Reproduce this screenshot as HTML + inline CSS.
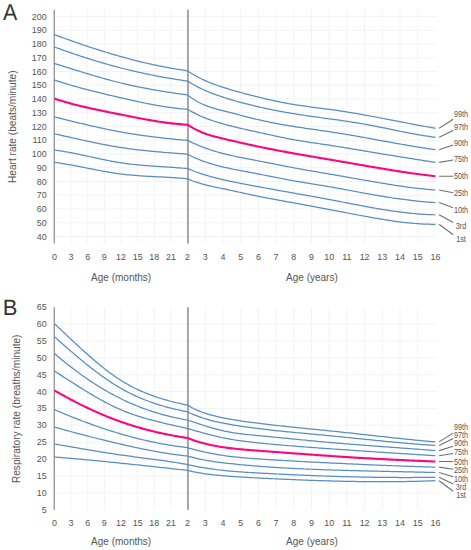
<!DOCTYPE html>
<html><head><meta charset="utf-8">
<style>
html,body{margin:0;padding:0;background:#fff;}
svg{display:block;}
text{font-family:"Liberation Sans",sans-serif;fill:#555555;}
.tk{font-size:9.5px;}
.ti{font-size:10px;}
.pl{font-size:8.5px;fill:#555;}
.lt{font-size:22px;fill:#333;text-rendering:geometricPrecision;}
</style></head><body>
<svg width="471" height="550" viewBox="0 0 471 550">
<rect width="471" height="550" fill="#fff"/>
<line x1="54.40" y1="9.68" x2="54.40" y2="243.38" stroke="#f3f3f3" stroke-width="1"/>
<line x1="71.05" y1="9.68" x2="71.05" y2="243.38" stroke="#f3f3f3" stroke-width="1"/>
<line x1="87.70" y1="9.68" x2="87.70" y2="243.38" stroke="#f3f3f3" stroke-width="1"/>
<line x1="104.35" y1="9.68" x2="104.35" y2="243.38" stroke="#f3f3f3" stroke-width="1"/>
<line x1="121.00" y1="9.68" x2="121.00" y2="243.38" stroke="#f3f3f3" stroke-width="1"/>
<line x1="137.65" y1="9.68" x2="137.65" y2="243.38" stroke="#f3f3f3" stroke-width="1"/>
<line x1="154.30" y1="9.68" x2="154.30" y2="243.38" stroke="#f3f3f3" stroke-width="1"/>
<line x1="170.95" y1="9.68" x2="170.95" y2="243.38" stroke="#f3f3f3" stroke-width="1"/>
<line x1="187.60" y1="9.68" x2="187.60" y2="243.38" stroke="#f3f3f3" stroke-width="1"/>
<line x1="205.30" y1="9.68" x2="205.30" y2="243.38" stroke="#f3f3f3" stroke-width="1"/>
<line x1="223.00" y1="9.68" x2="223.00" y2="243.38" stroke="#f3f3f3" stroke-width="1"/>
<line x1="240.70" y1="9.68" x2="240.70" y2="243.38" stroke="#f3f3f3" stroke-width="1"/>
<line x1="258.40" y1="9.68" x2="258.40" y2="243.38" stroke="#f3f3f3" stroke-width="1"/>
<line x1="276.10" y1="9.68" x2="276.10" y2="243.38" stroke="#f3f3f3" stroke-width="1"/>
<line x1="293.80" y1="9.68" x2="293.80" y2="243.38" stroke="#f3f3f3" stroke-width="1"/>
<line x1="311.50" y1="9.68" x2="311.50" y2="243.38" stroke="#f3f3f3" stroke-width="1"/>
<line x1="329.20" y1="9.68" x2="329.20" y2="243.38" stroke="#f3f3f3" stroke-width="1"/>
<line x1="346.90" y1="9.68" x2="346.90" y2="243.38" stroke="#f3f3f3" stroke-width="1"/>
<line x1="364.60" y1="9.68" x2="364.60" y2="243.38" stroke="#f3f3f3" stroke-width="1"/>
<line x1="382.30" y1="9.68" x2="382.30" y2="243.38" stroke="#f3f3f3" stroke-width="1"/>
<line x1="400.00" y1="9.68" x2="400.00" y2="243.38" stroke="#f3f3f3" stroke-width="1"/>
<line x1="417.70" y1="9.68" x2="417.70" y2="243.38" stroke="#f3f3f3" stroke-width="1"/>
<line x1="54.40" y1="16.55" x2="437.00" y2="16.55" stroke="#f3f3f3" stroke-width="1"/>
<line x1="54.40" y1="30.30" x2="437.00" y2="30.30" stroke="#f3f3f3" stroke-width="1"/>
<line x1="54.40" y1="44.04" x2="437.00" y2="44.04" stroke="#f3f3f3" stroke-width="1"/>
<line x1="54.40" y1="57.79" x2="437.00" y2="57.79" stroke="#f3f3f3" stroke-width="1"/>
<line x1="54.40" y1="71.54" x2="437.00" y2="71.54" stroke="#f3f3f3" stroke-width="1"/>
<line x1="54.40" y1="85.28" x2="437.00" y2="85.28" stroke="#f3f3f3" stroke-width="1"/>
<line x1="54.40" y1="99.03" x2="437.00" y2="99.03" stroke="#f3f3f3" stroke-width="1"/>
<line x1="54.40" y1="112.78" x2="437.00" y2="112.78" stroke="#f3f3f3" stroke-width="1"/>
<line x1="54.40" y1="126.53" x2="437.00" y2="126.53" stroke="#f3f3f3" stroke-width="1"/>
<line x1="54.40" y1="140.27" x2="437.00" y2="140.27" stroke="#f3f3f3" stroke-width="1"/>
<line x1="54.40" y1="154.02" x2="437.00" y2="154.02" stroke="#f3f3f3" stroke-width="1"/>
<line x1="54.40" y1="167.77" x2="437.00" y2="167.77" stroke="#f3f3f3" stroke-width="1"/>
<line x1="54.40" y1="181.51" x2="437.00" y2="181.51" stroke="#f3f3f3" stroke-width="1"/>
<line x1="54.40" y1="195.26" x2="437.00" y2="195.26" stroke="#f3f3f3" stroke-width="1"/>
<line x1="54.40" y1="209.01" x2="437.00" y2="209.01" stroke="#f3f3f3" stroke-width="1"/>
<line x1="54.40" y1="222.76" x2="437.00" y2="222.76" stroke="#f3f3f3" stroke-width="1"/>
<line x1="54.40" y1="236.50" x2="437.00" y2="236.50" stroke="#f3f3f3" stroke-width="1"/>
<line x1="54.30" y1="9.68" x2="54.30" y2="243.38" stroke="#9a9a9a" stroke-width="1.4"/>
<line x1="187.95" y1="9.68" x2="187.95" y2="243.38" stroke="#9a9a9a" stroke-width="1.7"/>
<path d="M54.40,34.60 L56.39,35.34 L58.38,36.08 L60.36,36.82 L62.35,37.55 L64.34,38.28 L66.33,39.00 L68.32,39.71 L70.30,40.42 L72.29,41.12 L74.28,41.82 L76.27,42.52 L78.26,43.21 L80.24,43.89 L82.23,44.57 L84.22,45.24 L86.21,45.90 L88.20,46.56 L90.19,47.22 L92.17,47.87 L94.16,48.51 L96.15,49.15 L98.14,49.78 L100.13,50.41 L102.11,51.03 L104.10,51.64 L106.09,52.25 L108.08,52.85 L110.07,53.44 L112.05,54.03 L114.04,54.61 L116.03,55.19 L118.02,55.76 L120.01,56.32 L121.99,56.88 L123.98,57.43 L125.97,57.97 L127.96,58.51 L129.95,59.03 L131.93,59.56 L133.92,60.07 L135.91,60.58 L137.90,61.08 L139.89,61.57 L141.87,62.05 L143.86,62.53 L145.85,63.00 L147.84,63.46 L149.83,63.91 L151.81,64.36 L153.80,64.79 L155.79,65.22 L157.78,65.64 L159.77,66.05 L161.76,66.45 L163.74,66.84 L165.73,67.22 L167.72,67.60 L169.71,67.96 L171.70,68.32 L173.68,68.66 L175.67,69.00 L177.66,69.32 L179.65,69.64 L181.64,69.94 L183.62,70.24 L185.61,70.53 L187.60,70.80 L189.60,72.16 L191.60,73.44 L193.60,74.67 L195.59,75.83 L197.59,76.93 L199.59,77.98 L201.59,78.98 L203.59,79.92 L205.59,80.83 L207.58,81.69 L209.58,82.51 L211.58,83.30 L213.58,84.05 L215.58,84.78 L217.58,85.47 L219.57,86.15 L221.57,86.81 L223.57,87.45 L225.57,88.08 L227.57,88.70 L229.57,89.30 L231.56,89.90 L233.56,90.49 L235.56,91.07 L237.56,91.63 L239.56,92.19 L241.56,92.75 L243.55,93.29 L245.55,93.83 L247.55,94.35 L249.55,94.87 L251.55,95.39 L253.55,95.89 L255.55,96.40 L257.54,96.89 L259.54,97.38 L261.54,97.86 L263.54,98.34 L265.54,98.81 L267.54,99.27 L269.53,99.72 L271.53,100.17 L273.53,100.61 L275.53,101.04 L277.53,101.46 L279.53,101.87 L281.52,102.27 L283.52,102.66 L285.52,103.05 L287.52,103.41 L289.52,103.77 L291.52,104.12 L293.51,104.45 L295.51,104.77 L297.51,105.08 L299.51,105.38 L301.51,105.67 L303.51,105.96 L305.50,106.23 L307.50,106.50 L309.50,106.76 L311.50,107.02 L313.50,107.27 L315.50,107.53 L317.50,107.78 L319.49,108.03 L321.49,108.29 L323.49,108.54 L325.49,108.80 L327.49,109.07 L329.49,109.34 L331.48,109.62 L333.48,109.90 L335.48,110.19 L337.48,110.49 L339.48,110.79 L341.48,111.10 L343.47,111.41 L345.47,111.73 L347.47,112.05 L349.47,112.38 L351.47,112.71 L353.47,113.05 L355.46,113.39 L357.46,113.74 L359.46,114.08 L361.46,114.44 L363.46,114.79 L365.46,115.15 L367.45,115.52 L369.45,115.88 L371.45,116.25 L373.45,116.62 L375.45,117.00 L377.45,117.37 L379.45,117.75 L381.44,118.13 L383.44,118.51 L385.44,118.89 L387.44,119.28 L389.44,119.66 L391.44,120.05 L393.43,120.43 L395.43,120.82 L397.43,121.20 L399.43,121.59 L401.43,121.98 L403.43,122.36 L405.42,122.75 L407.42,123.13 L409.42,123.51 L411.42,123.89 L413.42,124.27 L415.42,124.65 L417.41,125.03 L419.41,125.40 L421.41,125.77 L423.41,126.14 L425.41,126.51 L427.41,126.88 L429.40,127.24 L431.40,127.59 L433.40,127.95 L435.40,128.30" fill="none" stroke="#578dc2" stroke-width="1.25"/>
<line x1="439.1" y1="128.30" x2="453.2" y2="119.30" stroke="#707070" stroke-width="1.1"/>
<text transform="translate(461,117.40) scale(0.86,1)" text-anchor="middle" class="pl">99th</text>
<path d="M54.40,47.00 L56.39,47.72 L58.38,48.44 L60.36,49.16 L62.35,49.86 L64.34,50.57 L66.33,51.26 L68.32,51.96 L70.30,52.64 L72.29,53.32 L74.28,54.00 L76.27,54.67 L78.26,55.33 L80.24,55.99 L82.23,56.64 L84.22,57.29 L86.21,57.92 L88.20,58.56 L90.19,59.18 L92.17,59.80 L94.16,60.42 L96.15,61.02 L98.14,61.62 L100.13,62.22 L102.11,62.80 L104.10,63.38 L106.09,63.95 L108.08,64.52 L110.07,65.07 L112.05,65.62 L114.04,66.16 L116.03,66.70 L118.02,67.22 L120.01,67.74 L121.99,68.25 L123.98,68.76 L125.97,69.25 L127.96,69.74 L129.95,70.22 L131.93,70.69 L133.92,71.16 L135.91,71.61 L137.90,72.06 L139.89,72.51 L141.87,72.94 L143.86,73.37 L145.85,73.79 L147.84,74.20 L149.83,74.61 L151.81,75.01 L153.80,75.40 L155.79,75.79 L157.78,76.17 L159.77,76.54 L161.76,76.91 L163.74,77.27 L165.73,77.62 L167.72,77.97 L169.71,78.31 L171.70,78.64 L173.68,78.97 L175.67,79.29 L177.66,79.61 L179.65,79.92 L181.64,80.22 L183.62,80.52 L185.61,80.81 L187.60,81.10 L189.60,82.35 L191.60,83.54 L193.60,84.68 L195.59,85.78 L197.59,86.83 L199.59,87.84 L201.59,88.81 L203.59,89.73 L205.59,90.63 L207.58,91.48 L209.58,92.31 L211.58,93.10 L213.58,93.86 L215.58,94.60 L217.58,95.32 L219.57,96.01 L221.57,96.68 L223.57,97.34 L225.57,97.98 L227.57,98.61 L229.57,99.22 L231.56,99.82 L233.56,100.41 L235.56,100.98 L237.56,101.55 L239.56,102.10 L241.56,102.64 L243.55,103.17 L245.55,103.69 L247.55,104.20 L249.55,104.70 L251.55,105.19 L253.55,105.67 L255.55,106.14 L257.54,106.60 L259.54,107.06 L261.54,107.51 L263.54,107.95 L265.54,108.38 L267.54,108.80 L269.53,109.22 L271.53,109.63 L273.53,110.03 L275.53,110.43 L277.53,110.82 L279.53,111.20 L281.52,111.57 L283.52,111.93 L285.52,112.29 L287.52,112.64 L289.52,112.99 L291.52,113.32 L293.51,113.65 L295.51,113.98 L297.51,114.29 L299.51,114.60 L301.51,114.91 L303.51,115.21 L305.50,115.50 L307.50,115.79 L309.50,116.08 L311.50,116.36 L313.50,116.64 L315.50,116.92 L317.50,117.20 L319.49,117.47 L321.49,117.75 L323.49,118.02 L325.49,118.29 L327.49,118.57 L329.49,118.84 L331.48,119.11 L333.48,119.39 L335.48,119.67 L337.48,119.95 L339.48,120.23 L341.48,120.52 L343.47,120.81 L345.47,121.11 L347.47,121.40 L349.47,121.71 L351.47,122.02 L353.47,122.33 L355.46,122.65 L357.46,122.98 L359.46,123.31 L361.46,123.65 L363.46,124.00 L365.46,124.35 L367.45,124.72 L369.45,125.09 L371.45,125.46 L373.45,125.85 L375.45,126.23 L377.45,126.63 L379.45,127.02 L381.44,127.43 L383.44,127.83 L385.44,128.23 L387.44,128.64 L389.44,129.05 L391.44,129.46 L393.43,129.87 L395.43,130.27 L397.43,130.68 L399.43,131.09 L401.43,131.49 L403.43,131.88 L405.42,132.28 L407.42,132.67 L409.42,133.05 L411.42,133.43 L413.42,133.80 L415.42,134.17 L417.41,134.53 L419.41,134.88 L421.41,135.22 L423.41,135.55 L425.41,135.87 L427.41,136.18 L429.40,136.48 L431.40,136.76 L433.40,137.04 L435.40,137.30" fill="none" stroke="#578dc2" stroke-width="1.25"/>
<line x1="439.1" y1="137.30" x2="453.2" y2="130.50" stroke="#707070" stroke-width="1.1"/>
<text transform="translate(461,130.40) scale(0.86,1)" text-anchor="middle" class="pl">97th</text>
<path d="M54.40,63.40 L56.39,64.03 L58.38,64.66 L60.36,65.28 L62.35,65.91 L64.34,66.54 L66.33,67.17 L68.32,67.80 L70.30,68.42 L72.29,69.05 L74.28,69.67 L76.27,70.29 L78.26,70.91 L80.24,71.52 L82.23,72.13 L84.22,72.74 L86.21,73.35 L88.20,73.95 L90.19,74.55 L92.17,75.14 L94.16,75.73 L96.15,76.31 L98.14,76.88 L100.13,77.45 L102.11,78.02 L104.10,78.57 L106.09,79.12 L108.08,79.67 L110.07,80.20 L112.05,80.73 L114.04,81.25 L116.03,81.76 L118.02,82.26 L120.01,82.76 L121.99,83.24 L123.98,83.71 L125.97,84.18 L127.96,84.63 L129.95,85.08 L131.93,85.52 L133.92,85.95 L135.91,86.37 L137.90,86.78 L139.89,87.19 L141.87,87.58 L143.86,87.97 L145.85,88.36 L147.84,88.73 L149.83,89.10 L151.81,89.46 L153.80,89.81 L155.79,90.16 L157.78,90.50 L159.77,90.84 L161.76,91.17 L163.74,91.49 L165.73,91.81 L167.72,92.12 L169.71,92.43 L171.70,92.73 L173.68,93.03 L175.67,93.32 L177.66,93.61 L179.65,93.90 L181.64,94.18 L183.62,94.46 L185.61,94.73 L187.60,95.00 L189.60,96.56 L191.60,98.00 L193.60,99.33 L195.59,100.56 L197.59,101.70 L199.59,102.74 L201.59,103.71 L203.59,104.59 L205.59,105.41 L207.58,106.17 L209.58,106.87 L211.58,107.53 L213.58,108.14 L215.58,108.72 L217.58,109.28 L219.57,109.81 L221.57,110.32 L223.57,110.84 L225.57,111.35 L227.57,111.86 L229.57,112.38 L231.56,112.90 L233.56,113.42 L235.56,113.95 L237.56,114.47 L239.56,114.99 L241.56,115.51 L243.55,116.03 L245.55,116.54 L247.55,117.05 L249.55,117.56 L251.55,118.06 L253.55,118.55 L255.55,119.03 L257.54,119.50 L259.54,119.96 L261.54,120.42 L263.54,120.86 L265.54,121.29 L267.54,121.71 L269.53,122.13 L271.53,122.53 L273.53,122.93 L275.53,123.32 L277.53,123.70 L279.53,124.07 L281.52,124.43 L283.52,124.78 L285.52,125.13 L287.52,125.47 L289.52,125.81 L291.52,126.13 L293.51,126.45 L295.51,126.77 L297.51,127.08 L299.51,127.38 L301.51,127.68 L303.51,127.98 L305.50,128.27 L307.50,128.56 L309.50,128.85 L311.50,129.13 L313.50,129.42 L315.50,129.70 L317.50,129.99 L319.49,130.28 L321.49,130.56 L323.49,130.85 L325.49,131.15 L327.49,131.44 L329.49,131.74 L331.48,132.05 L333.48,132.36 L335.48,132.67 L337.48,132.99 L339.48,133.31 L341.48,133.63 L343.47,133.96 L345.47,134.29 L347.47,134.62 L349.47,134.96 L351.47,135.30 L353.47,135.64 L355.46,135.99 L357.46,136.34 L359.46,136.69 L361.46,137.04 L363.46,137.40 L365.46,137.75 L367.45,138.11 L369.45,138.47 L371.45,138.83 L373.45,139.20 L375.45,139.56 L377.45,139.92 L379.45,140.29 L381.44,140.65 L383.44,141.02 L385.44,141.38 L387.44,141.74 L389.44,142.11 L391.44,142.47 L393.43,142.83 L395.43,143.19 L397.43,143.54 L399.43,143.90 L401.43,144.25 L403.43,144.60 L405.42,144.95 L407.42,145.30 L409.42,145.64 L411.42,145.98 L413.42,146.31 L415.42,146.64 L417.41,146.97 L419.41,147.29 L421.41,147.61 L423.41,147.93 L425.41,148.24 L427.41,148.54 L429.40,148.84 L431.40,149.13 L433.40,149.42 L435.40,149.70" fill="none" stroke="#578dc2" stroke-width="1.25"/>
<line x1="439.1" y1="149.70" x2="453.2" y2="145.00" stroke="#707070" stroke-width="1.1"/>
<text transform="translate(461,146.00) scale(0.86,1)" text-anchor="middle" class="pl">90th</text>
<path d="M54.40,80.00 L56.39,80.66 L58.38,81.32 L60.36,81.96 L62.35,82.59 L64.34,83.21 L66.33,83.82 L68.32,84.42 L70.30,85.00 L72.29,85.58 L74.28,86.16 L76.27,86.72 L78.26,87.27 L80.24,87.82 L82.23,88.36 L84.22,88.89 L86.21,89.41 L88.20,89.93 L90.19,90.44 L92.17,90.94 L94.16,91.44 L96.15,91.94 L98.14,92.43 L100.13,92.91 L102.11,93.39 L104.10,93.87 L106.09,94.34 L108.08,94.81 L110.07,95.27 L112.05,95.74 L114.04,96.20 L116.03,96.66 L118.02,97.12 L120.01,97.57 L121.99,98.03 L123.98,98.48 L125.97,98.93 L127.96,99.38 L129.95,99.83 L131.93,100.28 L133.92,100.72 L135.91,101.15 L137.90,101.59 L139.89,102.01 L141.87,102.43 L143.86,102.85 L145.85,103.26 L147.84,103.66 L149.83,104.05 L151.81,104.43 L153.80,104.81 L155.79,105.17 L157.78,105.53 L159.77,105.87 L161.76,106.21 L163.74,106.53 L165.73,106.84 L167.72,107.14 L169.71,107.42 L171.70,107.69 L173.68,107.95 L175.67,108.19 L177.66,108.42 L179.65,108.63 L181.64,108.82 L183.62,109.00 L185.61,109.16 L187.60,109.30 L189.60,110.48 L191.60,111.60 L193.60,112.67 L195.59,113.68 L197.59,114.66 L199.59,115.58 L201.59,116.47 L203.59,117.31 L205.59,118.11 L207.58,118.88 L209.58,119.62 L211.58,120.32 L213.58,120.99 L215.58,121.64 L217.58,122.26 L219.57,122.86 L221.57,123.44 L223.57,124.01 L225.57,124.55 L227.57,125.09 L229.57,125.61 L231.56,126.12 L233.56,126.62 L235.56,127.11 L237.56,127.59 L239.56,128.07 L241.56,128.53 L243.55,128.99 L245.55,129.45 L247.55,129.90 L249.55,130.34 L251.55,130.79 L253.55,131.23 L255.55,131.67 L257.54,132.11 L259.54,132.55 L261.54,132.99 L263.54,133.44 L265.54,133.88 L267.54,134.32 L269.53,134.76 L271.53,135.20 L273.53,135.63 L275.53,136.06 L277.53,136.48 L279.53,136.91 L281.52,137.32 L283.52,137.73 L285.52,138.13 L287.52,138.52 L289.52,138.91 L291.52,139.28 L293.51,139.65 L295.51,140.00 L297.51,140.35 L299.51,140.69 L301.51,141.02 L303.51,141.34 L305.50,141.65 L307.50,141.96 L309.50,142.27 L311.50,142.57 L313.50,142.87 L315.50,143.17 L317.50,143.46 L319.49,143.75 L321.49,144.05 L323.49,144.34 L325.49,144.64 L327.49,144.94 L329.49,145.24 L331.48,145.55 L333.48,145.86 L335.48,146.18 L337.48,146.50 L339.48,146.82 L341.48,147.14 L343.47,147.47 L345.47,147.80 L347.47,148.13 L349.47,148.46 L351.47,148.79 L353.47,149.13 L355.46,149.47 L357.46,149.80 L359.46,150.14 L361.46,150.47 L363.46,150.81 L365.46,151.14 L367.45,151.48 L369.45,151.81 L371.45,152.14 L373.45,152.47 L375.45,152.80 L377.45,153.13 L379.45,153.46 L381.44,153.79 L383.44,154.12 L385.44,154.44 L387.44,154.77 L389.44,155.09 L391.44,155.42 L393.43,155.74 L395.43,156.06 L397.43,156.39 L399.43,156.71 L401.43,157.03 L403.43,157.35 L405.42,157.67 L407.42,157.99 L409.42,158.31 L411.42,158.62 L413.42,158.94 L415.42,159.26 L417.41,159.57 L419.41,159.89 L421.41,160.21 L423.41,160.52 L425.41,160.83 L427.41,161.15 L429.40,161.46 L431.40,161.78 L433.40,162.09 L435.40,162.40" fill="none" stroke="#578dc2" stroke-width="1.25"/>
<line x1="439.1" y1="162.40" x2="453.2" y2="160.00" stroke="#707070" stroke-width="1.1"/>
<text transform="translate(461,161.70) scale(0.86,1)" text-anchor="middle" class="pl">75th</text>
<path d="M54.40,98.60 L56.39,99.25 L58.38,99.88 L60.36,100.50 L62.35,101.11 L64.34,101.69 L66.33,102.27 L68.32,102.83 L70.30,103.38 L72.29,103.91 L74.28,104.44 L76.27,104.95 L78.26,105.45 L80.24,105.94 L82.23,106.42 L84.22,106.89 L86.21,107.36 L88.20,107.81 L90.19,108.26 L92.17,108.70 L94.16,109.13 L96.15,109.56 L98.14,109.98 L100.13,110.40 L102.11,110.81 L104.10,111.22 L106.09,111.62 L108.08,112.03 L110.07,112.42 L112.05,112.82 L114.04,113.22 L116.03,113.61 L118.02,114.01 L120.01,114.40 L121.99,114.80 L123.98,115.19 L125.97,115.59 L127.96,115.99 L129.95,116.38 L131.93,116.77 L133.92,117.16 L135.91,117.55 L137.90,117.94 L139.89,118.32 L141.87,118.69 L143.86,119.06 L145.85,119.43 L147.84,119.79 L149.83,120.14 L151.81,120.48 L153.80,120.82 L155.79,121.14 L157.78,121.46 L159.77,121.77 L161.76,122.07 L163.74,122.35 L165.73,122.63 L167.72,122.89 L169.71,123.14 L171.70,123.37 L173.68,123.59 L175.67,123.80 L177.66,123.99 L179.65,124.17 L181.64,124.33 L183.62,124.47 L185.61,124.59 L187.60,124.70 L189.60,126.00 L191.60,127.22 L193.60,128.36 L195.59,129.41 L197.59,130.40 L199.59,131.31 L201.59,132.17 L203.59,132.96 L205.59,133.70 L207.58,134.40 L209.58,135.04 L211.58,135.65 L213.58,136.23 L215.58,136.77 L217.58,137.30 L219.57,137.80 L221.57,138.29 L223.57,138.76 L225.57,139.23 L227.57,139.70 L229.57,140.17 L231.56,140.64 L233.56,141.10 L235.56,141.56 L237.56,142.02 L239.56,142.48 L241.56,142.93 L243.55,143.38 L245.55,143.82 L247.55,144.27 L249.55,144.71 L251.55,145.14 L253.55,145.57 L255.55,146.00 L257.54,146.42 L259.54,146.84 L261.54,147.25 L263.54,147.66 L265.54,148.06 L267.54,148.47 L269.53,148.86 L271.53,149.25 L273.53,149.64 L275.53,150.03 L277.53,150.41 L279.53,150.79 L281.52,151.16 L283.52,151.53 L285.52,151.90 L287.52,152.27 L289.52,152.63 L291.52,152.99 L293.51,153.35 L295.51,153.70 L297.51,154.06 L299.51,154.41 L301.51,154.76 L303.51,155.11 L305.50,155.45 L307.50,155.80 L309.50,156.14 L311.50,156.48 L313.50,156.83 L315.50,157.17 L317.50,157.51 L319.49,157.85 L321.49,158.19 L323.49,158.53 L325.49,158.87 L327.49,159.21 L329.49,159.55 L331.48,159.89 L333.48,160.23 L335.48,160.57 L337.48,160.92 L339.48,161.26 L341.48,161.61 L343.47,161.95 L345.47,162.29 L347.47,162.64 L349.47,162.98 L351.47,163.33 L353.47,163.68 L355.46,164.02 L357.46,164.37 L359.46,164.71 L361.46,165.06 L363.46,165.40 L365.46,165.75 L367.45,166.09 L369.45,166.44 L371.45,166.78 L373.45,167.12 L375.45,167.47 L377.45,167.81 L379.45,168.15 L381.44,168.48 L383.44,168.82 L385.44,169.15 L387.44,169.48 L389.44,169.81 L391.44,170.14 L393.43,170.46 L395.43,170.78 L397.43,171.10 L399.43,171.41 L401.43,171.72 L403.43,172.03 L405.42,172.33 L407.42,172.62 L409.42,172.92 L411.42,173.20 L413.42,173.48 L415.42,173.76 L417.41,174.03 L419.41,174.30 L421.41,174.56 L423.41,174.81 L425.41,175.06 L427.41,175.30 L429.40,175.54 L431.40,175.77 L433.40,175.99 L435.40,176.20" fill="none" stroke="#fb067d" stroke-width="2.10"/>
<line x1="439.1" y1="176.20" x2="453.2" y2="176.30" stroke="#707070" stroke-width="1.1"/>
<text transform="translate(461,179.20) scale(0.86,1)" text-anchor="middle" class="pl">50th</text>
<path d="M54.40,117.00 L56.39,117.48 L58.38,117.96 L60.36,118.45 L62.35,118.93 L64.34,119.41 L66.33,119.90 L68.32,120.38 L70.30,120.86 L72.29,121.34 L74.28,121.82 L76.27,122.30 L78.26,122.77 L80.24,123.25 L82.23,123.72 L84.22,124.19 L86.21,124.65 L88.20,125.12 L90.19,125.57 L92.17,126.03 L94.16,126.48 L96.15,126.92 L98.14,127.37 L100.13,127.80 L102.11,128.23 L104.10,128.66 L106.09,129.08 L108.08,129.49 L110.07,129.89 L112.05,130.29 L114.04,130.69 L116.03,131.07 L118.02,131.45 L120.01,131.82 L121.99,132.18 L123.98,132.53 L125.97,132.88 L127.96,133.21 L129.95,133.54 L131.93,133.86 L133.92,134.18 L135.91,134.48 L137.90,134.78 L139.89,135.08 L141.87,135.36 L143.86,135.64 L145.85,135.91 L147.84,136.18 L149.83,136.44 L151.81,136.69 L153.80,136.94 L155.79,137.18 L157.78,137.42 L159.77,137.65 L161.76,137.87 L163.74,138.09 L165.73,138.31 L167.72,138.52 L169.71,138.73 L171.70,138.93 L173.68,139.13 L175.67,139.32 L177.66,139.51 L179.65,139.69 L181.64,139.88 L183.62,140.05 L185.61,140.23 L187.60,140.40 L189.60,141.38 L191.60,142.33 L193.60,143.25 L195.59,144.13 L197.59,144.99 L199.59,145.81 L201.59,146.60 L203.59,147.37 L205.59,148.10 L207.58,148.81 L209.58,149.50 L211.58,150.16 L213.58,150.79 L215.58,151.40 L217.58,151.99 L219.57,152.56 L221.57,153.11 L223.57,153.63 L225.57,154.14 L227.57,154.63 L229.57,155.11 L231.56,155.57 L233.56,156.01 L235.56,156.44 L237.56,156.86 L239.56,157.28 L241.56,157.68 L243.55,158.07 L245.55,158.46 L247.55,158.84 L249.55,159.22 L251.55,159.60 L253.55,159.98 L255.55,160.36 L257.54,160.74 L259.54,161.12 L261.54,161.50 L263.54,161.89 L265.54,162.28 L267.54,162.68 L269.53,163.07 L271.53,163.47 L273.53,163.86 L275.53,164.26 L277.53,164.65 L279.53,165.05 L281.52,165.44 L283.52,165.83 L285.52,166.22 L287.52,166.61 L289.52,166.99 L291.52,167.37 L293.51,167.75 L295.51,168.12 L297.51,168.49 L299.51,168.85 L301.51,169.21 L303.51,169.56 L305.50,169.92 L307.50,170.27 L309.50,170.62 L311.50,170.96 L313.50,171.31 L315.50,171.65 L317.50,171.99 L319.49,172.34 L321.49,172.68 L323.49,173.02 L325.49,173.36 L327.49,173.71 L329.49,174.05 L331.48,174.39 L333.48,174.74 L335.48,175.09 L337.48,175.44 L339.48,175.79 L341.48,176.14 L343.47,176.49 L345.47,176.84 L347.47,177.19 L349.47,177.54 L351.47,177.89 L353.47,178.25 L355.46,178.60 L357.46,178.95 L359.46,179.30 L361.46,179.65 L363.46,180.00 L365.46,180.35 L367.45,180.70 L369.45,181.04 L371.45,181.39 L373.45,181.73 L375.45,182.08 L377.45,182.42 L379.45,182.75 L381.44,183.09 L383.44,183.42 L385.44,183.74 L387.44,184.07 L389.44,184.39 L391.44,184.70 L393.43,185.01 L395.43,185.32 L397.43,185.62 L399.43,185.92 L401.43,186.21 L403.43,186.49 L405.42,186.77 L407.42,187.04 L409.42,187.30 L411.42,187.56 L413.42,187.81 L415.42,188.05 L417.41,188.29 L419.41,188.52 L421.41,188.73 L423.41,188.94 L425.41,189.14 L427.41,189.33 L429.40,189.52 L431.40,189.69 L433.40,189.85 L435.40,190.00" fill="none" stroke="#578dc2" stroke-width="1.25"/>
<line x1="439.1" y1="190.00" x2="453.2" y2="192.70" stroke="#707070" stroke-width="1.1"/>
<text transform="translate(461,196.30) scale(0.86,1)" text-anchor="middle" class="pl">25th</text>
<path d="M54.40,133.80 L56.39,134.24 L58.38,134.68 L60.36,135.13 L62.35,135.57 L64.34,136.02 L66.33,136.47 L68.32,136.91 L70.30,137.36 L72.29,137.81 L74.28,138.25 L76.27,138.70 L78.26,139.14 L80.24,139.58 L82.23,140.01 L84.22,140.45 L86.21,140.88 L88.20,141.31 L90.19,141.73 L92.17,142.15 L94.16,142.56 L96.15,142.97 L98.14,143.38 L100.13,143.77 L102.11,144.16 L104.10,144.55 L106.09,144.93 L108.08,145.30 L110.07,145.66 L112.05,146.01 L114.04,146.36 L116.03,146.70 L118.02,147.03 L120.01,147.34 L121.99,147.65 L123.98,147.95 L125.97,148.24 L127.96,148.52 L129.95,148.79 L131.93,149.05 L133.92,149.31 L135.91,149.55 L137.90,149.79 L139.89,150.02 L141.87,150.24 L143.86,150.46 L145.85,150.67 L147.84,150.87 L149.83,151.07 L151.81,151.27 L153.80,151.45 L155.79,151.64 L157.78,151.82 L159.77,151.99 L161.76,152.16 L163.74,152.33 L165.73,152.50 L167.72,152.66 L169.71,152.82 L171.70,152.97 L173.68,153.13 L175.67,153.28 L177.66,153.44 L179.65,153.59 L181.64,153.74 L183.62,153.89 L185.61,154.05 L187.60,154.20 L189.60,155.25 L191.60,156.25 L193.60,157.20 L195.59,158.10 L197.59,158.96 L199.59,159.78 L201.59,160.55 L203.59,161.29 L205.59,162.00 L207.58,162.67 L209.58,163.31 L211.58,163.92 L213.58,164.50 L215.58,165.05 L217.58,165.59 L219.57,166.10 L221.57,166.59 L223.57,167.07 L225.57,167.53 L227.57,167.98 L229.57,168.41 L231.56,168.84 L233.56,169.25 L235.56,169.66 L237.56,170.06 L239.56,170.45 L241.56,170.84 L243.55,171.22 L245.55,171.59 L247.55,171.97 L249.55,172.34 L251.55,172.71 L253.55,173.09 L255.55,173.46 L257.54,173.84 L259.54,174.22 L261.54,174.60 L263.54,174.99 L265.54,175.38 L267.54,175.77 L269.53,176.16 L271.53,176.55 L273.53,176.95 L275.53,177.34 L277.53,177.73 L279.53,178.12 L281.52,178.51 L283.52,178.89 L285.52,179.27 L287.52,179.65 L289.52,180.02 L291.52,180.39 L293.51,180.75 L295.51,181.10 L297.51,181.45 L299.51,181.79 L301.51,182.13 L303.51,182.47 L305.50,182.80 L307.50,183.13 L309.50,183.45 L311.50,183.78 L313.50,184.10 L315.50,184.42 L317.50,184.75 L319.49,185.08 L321.49,185.40 L323.49,185.73 L325.49,186.07 L327.49,186.41 L329.49,186.75 L331.48,187.10 L333.48,187.45 L335.48,187.81 L337.48,188.17 L339.48,188.53 L341.48,188.90 L343.47,189.27 L345.47,189.64 L347.47,190.01 L349.47,190.38 L351.47,190.76 L353.47,191.13 L355.46,191.51 L357.46,191.88 L359.46,192.25 L361.46,192.62 L363.46,192.99 L365.46,193.36 L367.45,193.72 L369.45,194.08 L371.45,194.43 L373.45,194.79 L375.45,195.13 L377.45,195.48 L379.45,195.82 L381.44,196.15 L383.44,196.48 L385.44,196.81 L387.44,197.13 L389.44,197.44 L391.44,197.75 L393.43,198.05 L395.43,198.35 L397.43,198.64 L399.43,198.92 L401.43,199.20 L403.43,199.47 L405.42,199.73 L407.42,199.98 L409.42,200.23 L411.42,200.46 L413.42,200.69 L415.42,200.91 L417.41,201.13 L419.41,201.33 L421.41,201.52 L423.41,201.71 L425.41,201.88 L427.41,202.05 L429.40,202.20 L431.40,202.34 L433.40,202.48 L435.40,202.60" fill="none" stroke="#578dc2" stroke-width="1.25"/>
<line x1="439.1" y1="202.60" x2="453.2" y2="207.70" stroke="#707070" stroke-width="1.1"/>
<text transform="translate(461,213.10) scale(0.86,1)" text-anchor="middle" class="pl">10th</text>
<path d="M54.40,150.00 L56.39,150.27 L58.38,150.55 L60.36,150.86 L62.35,151.17 L64.34,151.51 L66.33,151.86 L68.32,152.22 L70.30,152.59 L72.29,152.98 L74.28,153.37 L76.27,153.77 L78.26,154.18 L80.24,154.60 L82.23,155.02 L84.22,155.45 L86.21,155.88 L88.20,156.31 L90.19,156.74 L92.17,157.17 L94.16,157.61 L96.15,158.04 L98.14,158.46 L100.13,158.89 L102.11,159.30 L104.10,159.71 L106.09,160.12 L108.08,160.51 L110.07,160.90 L112.05,161.27 L114.04,161.64 L116.03,161.99 L118.02,162.32 L120.01,162.65 L121.99,162.95 L123.98,163.24 L125.97,163.51 L127.96,163.77 L129.95,164.02 L131.93,164.25 L133.92,164.47 L135.91,164.68 L137.90,164.88 L139.89,165.07 L141.87,165.24 L143.86,165.41 L145.85,165.58 L147.84,165.73 L149.83,165.88 L151.81,166.03 L153.80,166.17 L155.79,166.30 L157.78,166.43 L159.77,166.57 L161.76,166.69 L163.74,166.82 L165.73,166.95 L167.72,167.08 L169.71,167.21 L171.70,167.35 L173.68,167.48 L175.67,167.63 L177.66,167.77 L179.65,167.92 L181.64,168.08 L183.62,168.25 L185.61,168.42 L187.60,168.60 L189.60,169.44 L191.60,170.25 L193.60,171.02 L195.59,171.77 L197.59,172.48 L199.59,173.17 L201.59,173.83 L203.59,174.47 L205.59,175.09 L207.58,175.68 L209.58,176.25 L211.58,176.80 L213.58,177.34 L215.58,177.85 L217.58,178.35 L219.57,178.84 L221.57,179.31 L223.57,179.78 L225.57,180.23 L227.57,180.67 L229.57,181.10 L231.56,181.53 L233.56,181.94 L235.56,182.35 L237.56,182.76 L239.56,183.15 L241.56,183.55 L243.55,183.93 L245.55,184.31 L247.55,184.69 L249.55,185.07 L251.55,185.44 L253.55,185.81 L255.55,186.18 L257.54,186.54 L259.54,186.91 L261.54,187.27 L263.54,187.64 L265.54,188.00 L267.54,188.37 L269.53,188.73 L271.53,189.09 L273.53,189.46 L275.53,189.82 L277.53,190.18 L279.53,190.54 L281.52,190.90 L283.52,191.26 L285.52,191.62 L287.52,191.98 L289.52,192.34 L291.52,192.69 L293.51,193.05 L295.51,193.41 L297.51,193.76 L299.51,194.12 L301.51,194.47 L303.51,194.83 L305.50,195.18 L307.50,195.54 L309.50,195.90 L311.50,196.25 L313.50,196.61 L315.50,196.97 L317.50,197.34 L319.49,197.70 L321.49,198.07 L323.49,198.43 L325.49,198.80 L327.49,199.18 L329.49,199.55 L331.48,199.93 L333.48,200.31 L335.48,200.70 L337.48,201.08 L339.48,201.47 L341.48,201.86 L343.47,202.25 L345.47,202.64 L347.47,203.02 L349.47,203.41 L351.47,203.80 L353.47,204.19 L355.46,204.57 L357.46,204.95 L359.46,205.34 L361.46,205.71 L363.46,206.09 L365.46,206.46 L367.45,206.83 L369.45,207.19 L371.45,207.55 L373.45,207.90 L375.45,208.25 L377.45,208.59 L379.45,208.93 L381.44,209.26 L383.44,209.59 L385.44,209.91 L387.44,210.22 L389.44,210.52 L391.44,210.82 L393.43,211.11 L395.43,211.39 L397.43,211.66 L399.43,211.93 L401.43,212.18 L403.43,212.43 L405.42,212.66 L407.42,212.89 L409.42,213.10 L411.42,213.30 L413.42,213.50 L415.42,213.68 L417.41,213.85 L419.41,214.01 L421.41,214.15 L423.41,214.28 L425.41,214.40 L427.41,214.51 L429.40,214.60 L431.40,214.68 L433.40,214.75 L435.40,214.80" fill="none" stroke="#578dc2" stroke-width="1.25"/>
<line x1="439.1" y1="214.80" x2="453.2" y2="222.60" stroke="#707070" stroke-width="1.1"/>
<text transform="translate(461,228.70) scale(0.86,1)" text-anchor="middle" class="pl">3rd</text>
<path d="M54.40,162.40 L56.39,162.66 L58.38,162.94 L60.36,163.23 L62.35,163.53 L64.34,163.85 L66.33,164.18 L68.32,164.52 L70.30,164.87 L72.29,165.23 L74.28,165.60 L76.27,165.97 L78.26,166.35 L80.24,166.73 L82.23,167.12 L84.22,167.51 L86.21,167.91 L88.20,168.30 L90.19,168.69 L92.17,169.08 L94.16,169.47 L96.15,169.86 L98.14,170.24 L100.13,170.62 L102.11,170.99 L104.10,171.35 L106.09,171.70 L108.08,172.05 L110.07,172.38 L112.05,172.71 L114.04,173.02 L116.03,173.32 L118.02,173.60 L120.01,173.87 L121.99,174.12 L123.98,174.36 L125.97,174.58 L127.96,174.79 L129.95,174.98 L131.93,175.16 L133.92,175.33 L135.91,175.49 L137.90,175.64 L139.89,175.78 L141.87,175.91 L143.86,176.03 L145.85,176.15 L147.84,176.26 L149.83,176.37 L151.81,176.47 L153.80,176.57 L155.79,176.68 L157.78,176.77 L159.77,176.87 L161.76,176.97 L163.74,177.08 L165.73,177.18 L167.72,177.29 L169.71,177.41 L171.70,177.53 L173.68,177.65 L175.67,177.79 L177.66,177.93 L179.65,178.08 L181.64,178.24 L183.62,178.42 L185.61,178.60 L187.60,178.80 L189.60,179.66 L191.60,180.46 L193.60,181.22 L195.59,181.92 L197.59,182.59 L199.59,183.21 L201.59,183.80 L203.59,184.35 L205.59,184.87 L207.58,185.37 L209.58,185.84 L211.58,186.30 L213.58,186.74 L215.58,187.16 L217.58,187.58 L219.57,187.99 L221.57,188.40 L223.57,188.81 L225.57,189.22 L227.57,189.64 L229.57,190.06 L231.56,190.49 L233.56,190.92 L235.56,191.36 L237.56,191.80 L239.56,192.24 L241.56,192.68 L243.55,193.12 L245.55,193.56 L247.55,193.99 L249.55,194.43 L251.55,194.86 L253.55,195.29 L255.55,195.71 L257.54,196.12 L259.54,196.53 L261.54,196.94 L263.54,197.33 L265.54,197.72 L267.54,198.11 L269.53,198.49 L271.53,198.86 L273.53,199.23 L275.53,199.60 L277.53,199.97 L279.53,200.33 L281.52,200.69 L283.52,201.05 L285.52,201.41 L287.52,201.77 L289.52,202.13 L291.52,202.49 L293.51,202.85 L295.51,203.21 L297.51,203.57 L299.51,203.94 L301.51,204.30 L303.51,204.67 L305.50,205.04 L307.50,205.41 L309.50,205.78 L311.50,206.16 L313.50,206.53 L315.50,206.90 L317.50,207.28 L319.49,207.66 L321.49,208.04 L323.49,208.41 L325.49,208.79 L327.49,209.17 L329.49,209.55 L331.48,209.94 L333.48,210.32 L335.48,210.70 L337.48,211.08 L339.48,211.47 L341.48,211.85 L343.47,212.23 L345.47,212.61 L347.47,212.99 L349.47,213.37 L351.47,213.75 L353.47,214.13 L355.46,214.50 L357.46,214.88 L359.46,215.25 L361.46,215.62 L363.46,215.99 L365.46,216.36 L367.45,216.72 L369.45,217.08 L371.45,217.44 L373.45,217.79 L375.45,218.14 L377.45,218.49 L379.45,218.83 L381.44,219.16 L383.44,219.49 L385.44,219.81 L387.44,220.12 L389.44,220.43 L391.44,220.73 L393.43,221.02 L395.43,221.30 L397.43,221.57 L399.43,221.83 L401.43,222.08 L403.43,222.32 L405.42,222.55 L407.42,222.76 L409.42,222.97 L411.42,223.16 L413.42,223.34 L415.42,223.50 L417.41,223.65 L419.41,223.79 L421.41,223.91 L423.41,224.02 L425.41,224.11 L427.41,224.18 L429.40,224.24 L431.40,224.28 L433.40,224.30 L435.40,224.30" fill="none" stroke="#578dc2" stroke-width="1.25"/>
<line x1="439.1" y1="224.30" x2="453.2" y2="234.70" stroke="#707070" stroke-width="1.1"/>
<text transform="translate(461,241.70) scale(0.86,1)" text-anchor="middle" class="pl">1st</text>
<text transform="translate(46.6,19.55) scale(0.94,1)" text-anchor="end" class="tk">200</text>
<text transform="translate(46.6,33.30) scale(0.94,1)" text-anchor="end" class="tk">190</text>
<text transform="translate(46.6,47.04) scale(0.94,1)" text-anchor="end" class="tk">180</text>
<text transform="translate(46.6,60.79) scale(0.94,1)" text-anchor="end" class="tk">170</text>
<text transform="translate(46.6,74.54) scale(0.94,1)" text-anchor="end" class="tk">160</text>
<text transform="translate(46.6,88.28) scale(0.94,1)" text-anchor="end" class="tk">150</text>
<text transform="translate(46.6,102.03) scale(0.94,1)" text-anchor="end" class="tk">140</text>
<text transform="translate(46.6,115.78) scale(0.94,1)" text-anchor="end" class="tk">130</text>
<text transform="translate(46.6,129.53) scale(0.94,1)" text-anchor="end" class="tk">120</text>
<text transform="translate(46.6,143.27) scale(0.94,1)" text-anchor="end" class="tk">110</text>
<text transform="translate(46.6,157.02) scale(0.94,1)" text-anchor="end" class="tk">100</text>
<text transform="translate(46.6,170.77) scale(0.94,1)" text-anchor="end" class="tk">90</text>
<text transform="translate(46.6,184.51) scale(0.94,1)" text-anchor="end" class="tk">80</text>
<text transform="translate(46.6,198.26) scale(0.94,1)" text-anchor="end" class="tk">70</text>
<text transform="translate(46.6,212.01) scale(0.94,1)" text-anchor="end" class="tk">60</text>
<text transform="translate(46.6,225.76) scale(0.94,1)" text-anchor="end" class="tk">50</text>
<text transform="translate(46.6,239.50) scale(0.94,1)" text-anchor="end" class="tk">40</text>
<text transform="translate(54.40,260.18) scale(0.94,1)" text-anchor="middle" class="tk">0</text>
<text transform="translate(71.05,260.18) scale(0.94,1)" text-anchor="middle" class="tk">3</text>
<text transform="translate(87.70,260.18) scale(0.94,1)" text-anchor="middle" class="tk">6</text>
<text transform="translate(104.35,260.18) scale(0.94,1)" text-anchor="middle" class="tk">9</text>
<text transform="translate(121.00,260.18) scale(0.94,1)" text-anchor="middle" class="tk">12</text>
<text transform="translate(137.65,260.18) scale(0.94,1)" text-anchor="middle" class="tk">15</text>
<text transform="translate(154.30,260.18) scale(0.94,1)" text-anchor="middle" class="tk">18</text>
<text transform="translate(170.95,260.18) scale(0.94,1)" text-anchor="middle" class="tk">21</text>
<text transform="translate(187.60,260.18) scale(0.94,1)" text-anchor="middle" class="tk">2</text>
<text transform="translate(205.30,260.18) scale(0.94,1)" text-anchor="middle" class="tk">3</text>
<text transform="translate(223.00,260.18) scale(0.94,1)" text-anchor="middle" class="tk">4</text>
<text transform="translate(240.70,260.18) scale(0.94,1)" text-anchor="middle" class="tk">5</text>
<text transform="translate(258.40,260.18) scale(0.94,1)" text-anchor="middle" class="tk">6</text>
<text transform="translate(276.10,260.18) scale(0.94,1)" text-anchor="middle" class="tk">7</text>
<text transform="translate(293.80,260.18) scale(0.94,1)" text-anchor="middle" class="tk">8</text>
<text transform="translate(311.50,260.18) scale(0.94,1)" text-anchor="middle" class="tk">9</text>
<text transform="translate(329.20,260.18) scale(0.94,1)" text-anchor="middle" class="tk">10</text>
<text transform="translate(346.90,260.18) scale(0.94,1)" text-anchor="middle" class="tk">11</text>
<text transform="translate(364.60,260.18) scale(0.94,1)" text-anchor="middle" class="tk">12</text>
<text transform="translate(382.30,260.18) scale(0.94,1)" text-anchor="middle" class="tk">13</text>
<text transform="translate(400.00,260.18) scale(0.94,1)" text-anchor="middle" class="tk">14</text>
<text transform="translate(417.70,260.18) scale(0.94,1)" text-anchor="middle" class="tk">15</text>
<text transform="translate(435.40,260.18) scale(0.94,1)" text-anchor="middle" class="tk">16</text>
<text x="91.1" y="280.68" class="ti">Age (months)</text>
<text x="286.1" y="280.68" class="ti">Age (years)</text>
<text transform="translate(15.60,126.75) rotate(-90)" text-anchor="middle" class="ti" style="font-size:10.15px">Heart rate (beats/minute)</text>
<text transform="translate(2.9,19.6) scale(0.93,1)" class="lt" style="font-size:23.0px">A</text>
<line x1="54.40" y1="307.20" x2="54.40" y2="509.70" stroke="#f3f3f3" stroke-width="1"/>
<line x1="71.05" y1="307.20" x2="71.05" y2="509.70" stroke="#f3f3f3" stroke-width="1"/>
<line x1="87.70" y1="307.20" x2="87.70" y2="509.70" stroke="#f3f3f3" stroke-width="1"/>
<line x1="104.35" y1="307.20" x2="104.35" y2="509.70" stroke="#f3f3f3" stroke-width="1"/>
<line x1="121.00" y1="307.20" x2="121.00" y2="509.70" stroke="#f3f3f3" stroke-width="1"/>
<line x1="137.65" y1="307.20" x2="137.65" y2="509.70" stroke="#f3f3f3" stroke-width="1"/>
<line x1="154.30" y1="307.20" x2="154.30" y2="509.70" stroke="#f3f3f3" stroke-width="1"/>
<line x1="170.95" y1="307.20" x2="170.95" y2="509.70" stroke="#f3f3f3" stroke-width="1"/>
<line x1="187.60" y1="307.20" x2="187.60" y2="509.70" stroke="#f3f3f3" stroke-width="1"/>
<line x1="205.30" y1="307.20" x2="205.30" y2="509.70" stroke="#f3f3f3" stroke-width="1"/>
<line x1="223.00" y1="307.20" x2="223.00" y2="509.70" stroke="#f3f3f3" stroke-width="1"/>
<line x1="240.70" y1="307.20" x2="240.70" y2="509.70" stroke="#f3f3f3" stroke-width="1"/>
<line x1="258.40" y1="307.20" x2="258.40" y2="509.70" stroke="#f3f3f3" stroke-width="1"/>
<line x1="276.10" y1="307.20" x2="276.10" y2="509.70" stroke="#f3f3f3" stroke-width="1"/>
<line x1="293.80" y1="307.20" x2="293.80" y2="509.70" stroke="#f3f3f3" stroke-width="1"/>
<line x1="311.50" y1="307.20" x2="311.50" y2="509.70" stroke="#f3f3f3" stroke-width="1"/>
<line x1="329.20" y1="307.20" x2="329.20" y2="509.70" stroke="#f3f3f3" stroke-width="1"/>
<line x1="346.90" y1="307.20" x2="346.90" y2="509.70" stroke="#f3f3f3" stroke-width="1"/>
<line x1="364.60" y1="307.20" x2="364.60" y2="509.70" stroke="#f3f3f3" stroke-width="1"/>
<line x1="382.30" y1="307.20" x2="382.30" y2="509.70" stroke="#f3f3f3" stroke-width="1"/>
<line x1="400.00" y1="307.20" x2="400.00" y2="509.70" stroke="#f3f3f3" stroke-width="1"/>
<line x1="417.70" y1="307.20" x2="417.70" y2="509.70" stroke="#f3f3f3" stroke-width="1"/>
<line x1="54.40" y1="324.07" x2="437.00" y2="324.07" stroke="#f3f3f3" stroke-width="1"/>
<line x1="54.40" y1="340.95" x2="437.00" y2="340.95" stroke="#f3f3f3" stroke-width="1"/>
<line x1="54.40" y1="357.82" x2="437.00" y2="357.82" stroke="#f3f3f3" stroke-width="1"/>
<line x1="54.40" y1="374.70" x2="437.00" y2="374.70" stroke="#f3f3f3" stroke-width="1"/>
<line x1="54.40" y1="391.57" x2="437.00" y2="391.57" stroke="#f3f3f3" stroke-width="1"/>
<line x1="54.40" y1="408.45" x2="437.00" y2="408.45" stroke="#f3f3f3" stroke-width="1"/>
<line x1="54.40" y1="425.32" x2="437.00" y2="425.32" stroke="#f3f3f3" stroke-width="1"/>
<line x1="54.40" y1="442.20" x2="437.00" y2="442.20" stroke="#f3f3f3" stroke-width="1"/>
<line x1="54.40" y1="459.07" x2="437.00" y2="459.07" stroke="#f3f3f3" stroke-width="1"/>
<line x1="54.40" y1="475.95" x2="437.00" y2="475.95" stroke="#f3f3f3" stroke-width="1"/>
<line x1="54.40" y1="492.82" x2="437.00" y2="492.82" stroke="#f3f3f3" stroke-width="1"/>
<line x1="54.30" y1="307.20" x2="54.30" y2="509.70" stroke="#9a9a9a" stroke-width="1.4"/>
<line x1="187.95" y1="307.20" x2="187.95" y2="509.70" stroke="#9a9a9a" stroke-width="1.7"/>
<path d="M54.40,323.60 L56.39,325.48 L58.38,327.36 L60.36,329.24 L62.35,331.12 L64.34,333.01 L66.33,334.89 L68.32,336.76 L70.30,338.64 L72.29,340.50 L74.28,342.36 L76.27,344.21 L78.26,346.05 L80.24,347.88 L82.23,349.69 L84.22,351.49 L86.21,353.27 L88.20,355.04 L90.19,356.79 L92.17,358.51 L94.16,360.22 L96.15,361.90 L98.14,363.56 L100.13,365.19 L102.11,366.79 L104.10,368.37 L106.09,369.91 L108.08,371.43 L110.07,372.91 L112.05,374.35 L114.04,375.76 L116.03,377.14 L118.02,378.47 L120.01,379.77 L121.99,381.02 L123.98,382.23 L125.97,383.41 L127.96,384.54 L129.95,385.63 L131.93,386.69 L133.92,387.71 L135.91,388.69 L137.90,389.64 L139.89,390.56 L141.87,391.44 L143.86,392.30 L145.85,393.12 L147.84,393.91 L149.83,394.68 L151.81,395.41 L153.80,396.13 L155.79,396.81 L157.78,397.47 L159.77,398.11 L161.76,398.73 L163.74,399.33 L165.73,399.90 L167.72,400.46 L169.71,401.00 L171.70,401.52 L173.68,402.02 L175.67,402.51 L177.66,402.99 L179.65,403.45 L181.64,403.91 L183.62,404.35 L185.61,404.78 L187.60,405.20 L189.60,406.37 L191.60,407.47 L193.60,408.49 L195.59,409.45 L197.59,410.35 L199.59,411.19 L201.59,411.98 L203.59,412.71 L205.59,413.39 L207.58,414.03 L209.58,414.63 L211.58,415.19 L213.58,415.71 L215.58,416.20 L217.58,416.67 L219.57,417.11 L221.57,417.52 L223.57,417.92 L225.57,418.31 L227.57,418.68 L229.57,419.04 L231.56,419.40 L233.56,419.74 L235.56,420.07 L237.56,420.39 L239.56,420.70 L241.56,421.01 L243.55,421.30 L245.55,421.59 L247.55,421.87 L249.55,422.15 L251.55,422.42 L253.55,422.68 L255.55,422.94 L257.54,423.19 L259.54,423.44 L261.54,423.69 L263.54,423.93 L265.54,424.17 L267.54,424.40 L269.53,424.63 L271.53,424.86 L273.53,425.09 L275.53,425.31 L277.53,425.53 L279.53,425.75 L281.52,425.96 L283.52,426.17 L285.52,426.38 L287.52,426.59 L289.52,426.80 L291.52,427.01 L293.51,427.21 L295.51,427.41 L297.51,427.61 L299.51,427.82 L301.51,428.02 L303.51,428.22 L305.50,428.41 L307.50,428.61 L309.50,428.81 L311.50,429.01 L313.50,429.21 L315.50,429.41 L317.50,429.61 L319.49,429.81 L321.49,430.01 L323.49,430.21 L325.49,430.42 L327.49,430.62 L329.49,430.83 L331.48,431.04 L333.48,431.25 L335.48,431.46 L337.48,431.67 L339.48,431.88 L341.48,432.10 L343.47,432.31 L345.47,432.53 L347.47,432.75 L349.47,432.97 L351.47,433.19 L353.47,433.41 L355.46,433.63 L357.46,433.85 L359.46,434.07 L361.46,434.29 L363.46,434.51 L365.46,434.73 L367.45,434.96 L369.45,435.18 L371.45,435.40 L373.45,435.62 L375.45,435.84 L377.45,436.06 L379.45,436.28 L381.44,436.50 L383.44,436.72 L385.44,436.94 L387.44,437.16 L389.44,437.37 L391.44,437.59 L393.43,437.80 L395.43,438.02 L397.43,438.23 L399.43,438.44 L401.43,438.65 L403.43,438.86 L405.42,439.06 L407.42,439.27 L409.42,439.47 L411.42,439.67 L413.42,439.87 L415.42,440.07 L417.41,440.26 L419.41,440.45 L421.41,440.64 L423.41,440.83 L425.41,441.02 L427.41,441.20 L429.40,441.38 L431.40,441.55 L433.40,441.73 L435.40,441.90" fill="none" stroke="#578dc2" stroke-width="1.25"/>
<line x1="439.1" y1="441.90" x2="453.2" y2="433.10" stroke="#707070" stroke-width="1.1"/>
<text transform="translate(461,430.10) scale(0.86,1)" text-anchor="middle" class="pl">99th</text>
<path d="M54.40,336.60 L56.39,338.38 L58.38,340.16 L60.36,341.94 L62.35,343.70 L64.34,345.46 L66.33,347.21 L68.32,348.95 L70.30,350.67 L72.29,352.39 L74.28,354.09 L76.27,355.78 L78.26,357.46 L80.24,359.12 L82.23,360.77 L84.22,362.39 L86.21,364.00 L88.20,365.60 L90.19,367.17 L92.17,368.72 L94.16,370.25 L96.15,371.76 L98.14,373.25 L100.13,374.71 L102.11,376.14 L104.10,377.56 L106.09,378.94 L108.08,380.30 L110.07,381.63 L112.05,382.93 L114.04,384.20 L116.03,385.44 L118.02,386.65 L120.01,387.82 L121.99,388.97 L123.98,390.08 L125.97,391.15 L127.96,392.20 L129.95,393.21 L131.93,394.19 L133.92,395.14 L135.91,396.06 L137.90,396.95 L139.89,397.82 L141.87,398.65 L143.86,399.46 L145.85,400.25 L147.84,401.01 L149.83,401.74 L151.81,402.45 L153.80,403.13 L155.79,403.79 L157.78,404.43 L159.77,405.05 L161.76,405.65 L163.74,406.23 L165.73,406.78 L167.72,407.32 L169.71,407.84 L171.70,408.34 L173.68,408.83 L175.67,409.30 L177.66,409.75 L179.65,410.19 L181.64,410.61 L183.62,411.02 L185.61,411.42 L187.60,411.80 L189.60,412.78 L191.60,413.70 L193.60,414.57 L195.59,415.40 L197.59,416.18 L199.59,416.91 L201.59,417.61 L203.59,418.27 L205.59,418.89 L207.58,419.47 L209.58,420.03 L211.58,420.55 L213.58,421.05 L215.58,421.53 L217.58,421.98 L219.57,422.41 L221.57,422.82 L223.57,423.22 L225.57,423.61 L227.57,423.98 L229.57,424.34 L231.56,424.70 L233.56,425.04 L235.56,425.37 L237.56,425.69 L239.56,426.01 L241.56,426.31 L243.55,426.61 L245.55,426.90 L247.55,427.18 L249.55,427.46 L251.55,427.72 L253.55,427.99 L255.55,428.24 L257.54,428.49 L259.54,428.74 L261.54,428.98 L263.54,429.22 L265.54,429.45 L267.54,429.68 L269.53,429.91 L271.53,430.13 L273.53,430.35 L275.53,430.56 L277.53,430.77 L279.53,430.98 L281.52,431.19 L283.52,431.39 L285.52,431.59 L287.52,431.79 L289.52,431.98 L291.52,432.18 L293.51,432.37 L295.51,432.56 L297.51,432.75 L299.51,432.94 L301.51,433.12 L303.51,433.31 L305.50,433.49 L307.50,433.68 L309.50,433.86 L311.50,434.05 L313.50,434.23 L315.50,434.42 L317.50,434.60 L319.49,434.79 L321.49,434.97 L323.49,435.16 L325.49,435.35 L327.49,435.54 L329.49,435.73 L331.48,435.92 L333.48,436.11 L335.48,436.31 L337.48,436.50 L339.48,436.70 L341.48,436.90 L343.47,437.10 L345.47,437.30 L347.47,437.50 L349.47,437.70 L351.47,437.91 L353.47,438.11 L355.46,438.31 L357.46,438.51 L359.46,438.72 L361.46,438.92 L363.46,439.12 L365.46,439.33 L367.45,439.53 L369.45,439.73 L371.45,439.93 L373.45,440.14 L375.45,440.34 L377.45,440.54 L379.45,440.73 L381.44,440.93 L383.44,441.13 L385.44,441.32 L387.44,441.52 L389.44,441.71 L391.44,441.90 L393.43,442.09 L395.43,442.28 L397.43,442.46 L399.43,442.65 L401.43,442.83 L403.43,443.01 L405.42,443.19 L407.42,443.36 L409.42,443.53 L411.42,443.70 L413.42,443.87 L415.42,444.03 L417.41,444.20 L419.41,444.35 L421.41,444.51 L423.41,444.66 L425.41,444.81 L427.41,444.96 L429.40,445.10 L431.40,445.24 L433.40,445.37 L435.40,445.50" fill="none" stroke="#578dc2" stroke-width="1.25"/>
<line x1="439.1" y1="445.50" x2="453.2" y2="438.60" stroke="#707070" stroke-width="1.1"/>
<text transform="translate(461,437.60) scale(0.86,1)" text-anchor="middle" class="pl">97th</text>
<path d="M54.40,353.60 L56.39,355.29 L58.38,356.95 L60.36,358.60 L62.35,360.23 L64.34,361.83 L66.33,363.42 L68.32,364.99 L70.30,366.54 L72.29,368.06 L74.28,369.57 L76.27,371.06 L78.26,372.52 L80.24,373.97 L82.23,375.39 L84.22,376.80 L86.21,378.18 L88.20,379.54 L90.19,380.88 L92.17,382.20 L94.16,383.49 L96.15,384.77 L98.14,386.02 L100.13,387.25 L102.11,388.46 L104.10,389.64 L106.09,390.81 L108.08,391.95 L110.07,393.06 L112.05,394.16 L114.04,395.23 L116.03,396.28 L118.02,397.31 L120.01,398.31 L121.99,399.29 L123.98,400.24 L125.97,401.17 L127.96,402.08 L129.95,402.97 L131.93,403.83 L133.92,404.68 L135.91,405.50 L137.90,406.29 L139.89,407.07 L141.87,407.83 L143.86,408.56 L145.85,409.28 L147.84,409.98 L149.83,410.65 L151.81,411.31 L153.80,411.94 L155.79,412.56 L157.78,413.16 L159.77,413.74 L161.76,414.30 L163.74,414.85 L165.73,415.38 L167.72,415.89 L169.71,416.38 L171.70,416.86 L173.68,417.32 L175.67,417.76 L177.66,418.19 L179.65,418.60 L181.64,419.00 L183.62,419.38 L185.61,419.75 L187.60,420.10 L189.60,420.76 L191.60,421.43 L193.60,422.09 L195.59,422.76 L197.59,423.42 L199.59,424.07 L201.59,424.72 L203.59,425.36 L205.59,425.99 L207.58,426.61 L209.58,427.21 L211.58,427.80 L213.58,428.37 L215.58,428.92 L217.58,429.45 L219.57,429.95 L221.57,430.43 L223.57,430.89 L225.57,431.32 L227.57,431.72 L229.57,432.09 L231.56,432.44 L233.56,432.77 L235.56,433.07 L237.56,433.35 L239.56,433.62 L241.56,433.87 L243.55,434.11 L245.55,434.33 L247.55,434.54 L249.55,434.75 L251.55,434.95 L253.55,435.14 L255.55,435.33 L257.54,435.52 L259.54,435.71 L261.54,435.90 L263.54,436.09 L265.54,436.28 L267.54,436.47 L269.53,436.67 L271.53,436.86 L273.53,437.06 L275.53,437.25 L277.53,437.45 L279.53,437.65 L281.52,437.84 L283.52,438.04 L285.52,438.24 L287.52,438.44 L289.52,438.63 L291.52,438.83 L293.51,439.03 L295.51,439.22 L297.51,439.42 L299.51,439.61 L301.51,439.81 L303.51,440.00 L305.50,440.20 L307.50,440.39 L309.50,440.58 L311.50,440.77 L313.50,440.96 L315.50,441.15 L317.50,441.34 L319.49,441.52 L321.49,441.71 L323.49,441.89 L325.49,442.07 L327.49,442.25 L329.49,442.43 L331.48,442.60 L333.48,442.77 L335.48,442.95 L337.48,443.12 L339.48,443.28 L341.48,443.45 L343.47,443.61 L345.47,443.78 L347.47,443.94 L349.47,444.10 L351.47,444.26 L353.47,444.42 L355.46,444.58 L357.46,444.73 L359.46,444.89 L361.46,445.04 L363.46,445.19 L365.46,445.35 L367.45,445.50 L369.45,445.65 L371.45,445.80 L373.45,445.95 L375.45,446.10 L377.45,446.24 L379.45,446.39 L381.44,446.54 L383.44,446.69 L385.44,446.83 L387.44,446.98 L389.44,447.13 L391.44,447.27 L393.43,447.42 L395.43,447.56 L397.43,447.71 L399.43,447.86 L401.43,448.01 L403.43,448.15 L405.42,448.30 L407.42,448.45 L409.42,448.60 L411.42,448.75 L413.42,448.90 L415.42,449.05 L417.41,449.20 L419.41,449.35 L421.41,449.50 L423.41,449.66 L425.41,449.81 L427.41,449.97 L429.40,450.12 L431.40,450.28 L433.40,450.44 L435.40,450.60" fill="none" stroke="#578dc2" stroke-width="1.25"/>
<line x1="439.1" y1="450.60" x2="453.2" y2="446.20" stroke="#707070" stroke-width="1.1"/>
<text transform="translate(461,446.10) scale(0.86,1)" text-anchor="middle" class="pl">90th</text>
<path d="M54.40,371.00 L56.39,372.28 L58.38,373.57 L60.36,374.86 L62.35,376.14 L64.34,377.43 L66.33,378.72 L68.32,380.00 L70.30,381.28 L72.29,382.56 L74.28,383.83 L76.27,385.10 L78.26,386.35 L80.24,387.60 L82.23,388.84 L84.22,390.07 L86.21,391.29 L88.20,392.50 L90.19,393.69 L92.17,394.87 L94.16,396.04 L96.15,397.19 L98.14,398.32 L100.13,399.43 L102.11,400.53 L104.10,401.60 L106.09,402.66 L108.08,403.69 L110.07,404.70 L112.05,405.69 L114.04,406.65 L116.03,407.58 L118.02,408.49 L120.01,409.37 L121.99,410.22 L123.98,411.05 L125.97,411.84 L127.96,412.61 L129.95,413.35 L131.93,414.07 L133.92,414.77 L135.91,415.44 L137.90,416.09 L139.89,416.72 L141.87,417.34 L143.86,417.93 L145.85,418.51 L147.84,419.07 L149.83,419.62 L151.81,420.15 L153.80,420.67 L155.79,421.18 L157.78,421.68 L159.77,422.17 L161.76,422.65 L163.74,423.12 L165.73,423.59 L167.72,424.05 L169.71,424.50 L171.70,424.96 L173.68,425.41 L175.67,425.86 L177.66,426.31 L179.65,426.76 L181.64,427.22 L183.62,427.67 L185.61,428.13 L187.60,428.60 L189.60,429.16 L191.60,429.72 L193.60,430.28 L195.59,430.84 L197.59,431.39 L199.59,431.95 L201.59,432.50 L203.59,433.04 L205.59,433.58 L207.58,434.11 L209.58,434.63 L211.58,435.13 L213.58,435.63 L215.58,436.12 L217.58,436.59 L219.57,437.05 L221.57,437.49 L223.57,437.91 L225.57,438.31 L227.57,438.70 L229.57,439.06 L231.56,439.41 L233.56,439.75 L235.56,440.06 L237.56,440.37 L239.56,440.66 L241.56,440.93 L243.55,441.20 L245.55,441.45 L247.55,441.70 L249.55,441.93 L251.55,442.16 L253.55,442.38 L255.55,442.60 L257.54,442.81 L259.54,443.02 L261.54,443.22 L263.54,443.42 L265.54,443.62 L267.54,443.81 L269.53,444.00 L271.53,444.19 L273.53,444.37 L275.53,444.55 L277.53,444.73 L279.53,444.91 L281.52,445.08 L283.52,445.25 L285.52,445.42 L287.52,445.59 L289.52,445.75 L291.52,445.91 L293.51,446.07 L295.51,446.23 L297.51,446.39 L299.51,446.54 L301.51,446.69 L303.51,446.85 L305.50,447.00 L307.50,447.14 L309.50,447.29 L311.50,447.44 L313.50,447.58 L315.50,447.73 L317.50,447.87 L319.49,448.01 L321.49,448.16 L323.49,448.30 L325.49,448.44 L327.49,448.58 L329.49,448.72 L331.48,448.86 L333.48,449.00 L335.48,449.14 L337.48,449.28 L339.48,449.42 L341.48,449.56 L343.47,449.70 L345.47,449.84 L347.47,449.98 L349.47,450.11 L351.47,450.25 L353.47,450.39 L355.46,450.53 L357.46,450.66 L359.46,450.80 L361.46,450.94 L363.46,451.07 L365.46,451.21 L367.45,451.35 L369.45,451.48 L371.45,451.62 L373.45,451.75 L375.45,451.88 L377.45,452.02 L379.45,452.15 L381.44,452.28 L383.44,452.42 L385.44,452.55 L387.44,452.68 L389.44,452.81 L391.44,452.94 L393.43,453.07 L395.43,453.20 L397.43,453.33 L399.43,453.46 L401.43,453.59 L403.43,453.72 L405.42,453.85 L407.42,453.98 L409.42,454.10 L411.42,454.23 L413.42,454.35 L415.42,454.48 L417.41,454.60 L419.41,454.73 L421.41,454.85 L423.41,454.97 L425.41,455.10 L427.41,455.22 L429.40,455.34 L431.40,455.46 L433.40,455.58 L435.40,455.70" fill="none" stroke="#578dc2" stroke-width="1.25"/>
<line x1="439.1" y1="455.70" x2="453.2" y2="453.50" stroke="#707070" stroke-width="1.1"/>
<text transform="translate(461,454.80) scale(0.86,1)" text-anchor="middle" class="pl">75th</text>
<path d="M54.40,390.40 L56.39,391.55 L58.38,392.69 L60.36,393.81 L62.35,394.93 L64.34,396.03 L66.33,397.12 L68.32,398.19 L70.30,399.25 L72.29,400.30 L74.28,401.34 L76.27,402.37 L78.26,403.38 L80.24,404.38 L82.23,405.36 L84.22,406.33 L86.21,407.29 L88.20,408.23 L90.19,409.17 L92.17,410.08 L94.16,410.99 L96.15,411.88 L98.14,412.75 L100.13,413.62 L102.11,414.46 L104.10,415.30 L106.09,416.12 L108.08,416.92 L110.07,417.71 L112.05,418.49 L114.04,419.25 L116.03,420.00 L118.02,420.73 L120.01,421.45 L121.99,422.15 L123.98,422.84 L125.97,423.51 L127.96,424.17 L129.95,424.81 L131.93,425.44 L133.92,426.06 L135.91,426.66 L137.90,427.25 L139.89,427.82 L141.87,428.38 L143.86,428.93 L145.85,429.47 L147.84,429.99 L149.83,430.50 L151.81,431.00 L153.80,431.48 L155.79,431.95 L157.78,432.41 L159.77,432.86 L161.76,433.30 L163.74,433.73 L165.73,434.14 L167.72,434.54 L169.71,434.94 L171.70,435.32 L173.68,435.69 L175.67,436.05 L177.66,436.40 L179.65,436.74 L181.64,437.07 L183.62,437.39 L185.61,437.70 L187.60,438.00 L189.60,438.78 L191.60,439.52 L193.60,440.22 L195.59,440.90 L197.59,441.53 L199.59,442.14 L201.59,442.71 L203.59,443.26 L205.59,443.77 L207.58,444.26 L209.58,444.72 L211.58,445.16 L213.58,445.57 L215.58,445.95 L217.58,446.32 L219.57,446.66 L221.57,446.99 L223.57,447.29 L225.57,447.58 L227.57,447.85 L229.57,448.11 L231.56,448.35 L233.56,448.58 L235.56,448.79 L237.56,448.99 L239.56,449.19 L241.56,449.37 L243.55,449.55 L245.55,449.72 L247.55,449.88 L249.55,450.04 L251.55,450.19 L253.55,450.34 L255.55,450.49 L257.54,450.64 L259.54,450.78 L261.54,450.93 L263.54,451.08 L265.54,451.23 L267.54,451.38 L269.53,451.53 L271.53,451.68 L273.53,451.83 L275.53,451.98 L277.53,452.13 L279.53,452.28 L281.52,452.43 L283.52,452.58 L285.52,452.73 L287.52,452.88 L289.52,453.03 L291.52,453.18 L293.51,453.33 L295.51,453.48 L297.51,453.63 L299.51,453.77 L301.51,453.92 L303.51,454.07 L305.50,454.22 L307.50,454.36 L309.50,454.51 L311.50,454.65 L313.50,454.80 L315.50,454.94 L317.50,455.08 L319.49,455.23 L321.49,455.37 L323.49,455.51 L325.49,455.64 L327.49,455.78 L329.49,455.92 L331.48,456.05 L333.48,456.19 L335.48,456.32 L337.48,456.45 L339.48,456.59 L341.48,456.72 L343.47,456.84 L345.47,456.97 L347.47,457.10 L349.47,457.22 L351.47,457.35 L353.47,457.47 L355.46,457.59 L357.46,457.71 L359.46,457.83 L361.46,457.95 L363.46,458.07 L365.46,458.18 L367.45,458.30 L369.45,458.41 L371.45,458.52 L373.45,458.63 L375.45,458.74 L377.45,458.85 L379.45,458.96 L381.44,459.07 L383.44,459.17 L385.44,459.28 L387.44,459.38 L389.44,459.48 L391.44,459.58 L393.43,459.68 L395.43,459.78 L397.43,459.88 L399.43,459.97 L401.43,460.07 L403.43,460.16 L405.42,460.25 L407.42,460.35 L409.42,460.44 L411.42,460.52 L413.42,460.61 L415.42,460.70 L417.41,460.78 L419.41,460.87 L421.41,460.95 L423.41,461.03 L425.41,461.11 L427.41,461.19 L429.40,461.27 L431.40,461.35 L433.40,461.43 L435.40,461.50" fill="none" stroke="#fb067d" stroke-width="2.10"/>
<line x1="439.1" y1="461.50" x2="453.2" y2="461.50" stroke="#707070" stroke-width="1.1"/>
<text transform="translate(461,464.60) scale(0.86,1)" text-anchor="middle" class="pl">50th</text>
<path d="M54.40,409.60 L56.39,410.46 L58.38,411.32 L60.36,412.16 L62.35,413.00 L64.34,413.83 L66.33,414.66 L68.32,415.47 L70.30,416.28 L72.29,417.08 L74.28,417.87 L76.27,418.65 L78.26,419.43 L80.24,420.20 L82.23,420.96 L84.22,421.71 L86.21,422.45 L88.20,423.18 L90.19,423.91 L92.17,424.62 L94.16,425.33 L96.15,426.03 L98.14,426.72 L100.13,427.40 L102.11,428.07 L104.10,428.74 L106.09,429.39 L108.08,430.04 L110.07,430.67 L112.05,431.30 L114.04,431.92 L116.03,432.52 L118.02,433.12 L120.01,433.71 L121.99,434.29 L123.98,434.86 L125.97,435.42 L127.96,435.97 L129.95,436.50 L131.93,437.03 L133.92,437.55 L135.91,438.06 L137.90,438.56 L139.89,439.05 L141.87,439.53 L143.86,440.00 L145.85,440.46 L147.84,440.91 L149.83,441.35 L151.81,441.78 L153.80,442.20 L155.79,442.61 L157.78,443.00 L159.77,443.39 L161.76,443.77 L163.74,444.13 L165.73,444.49 L167.72,444.83 L169.71,445.17 L171.70,445.49 L173.68,445.81 L175.67,446.11 L177.66,446.40 L179.65,446.68 L181.64,446.95 L183.62,447.21 L185.61,447.46 L187.60,447.70 L189.60,448.28 L191.60,448.83 L193.60,449.38 L195.59,449.90 L197.59,450.41 L199.59,450.89 L201.59,451.37 L203.59,451.82 L205.59,452.26 L207.58,452.68 L209.58,453.09 L211.58,453.48 L213.58,453.86 L215.58,454.21 L217.58,454.56 L219.57,454.89 L221.57,455.20 L223.57,455.50 L225.57,455.78 L227.57,456.05 L229.57,456.30 L231.56,456.54 L233.56,456.77 L235.56,456.99 L237.56,457.20 L239.56,457.39 L241.56,457.58 L243.55,457.76 L245.55,457.93 L247.55,458.10 L249.55,458.25 L251.55,458.41 L253.55,458.55 L255.55,458.70 L257.54,458.84 L259.54,458.98 L261.54,459.12 L263.54,459.25 L265.54,459.38 L267.54,459.51 L269.53,459.64 L271.53,459.77 L273.53,459.90 L275.53,460.02 L277.53,460.14 L279.53,460.26 L281.52,460.38 L283.52,460.50 L285.52,460.62 L287.52,460.73 L289.52,460.84 L291.52,460.96 L293.51,461.07 L295.51,461.18 L297.51,461.29 L299.51,461.39 L301.51,461.50 L303.51,461.61 L305.50,461.71 L307.50,461.82 L309.50,461.92 L311.50,462.02 L313.50,462.12 L315.50,462.22 L317.50,462.32 L319.49,462.42 L321.49,462.52 L323.49,462.62 L325.49,462.72 L327.49,462.82 L329.49,462.91 L331.48,463.01 L333.48,463.11 L335.48,463.20 L337.48,463.30 L339.48,463.40 L341.48,463.49 L343.47,463.59 L345.47,463.68 L347.47,463.78 L349.47,463.87 L351.47,463.96 L353.47,464.05 L355.46,464.15 L357.46,464.24 L359.46,464.33 L361.46,464.42 L363.46,464.51 L365.46,464.60 L367.45,464.68 L369.45,464.77 L371.45,464.86 L373.45,464.94 L375.45,465.03 L377.45,465.11 L379.45,465.20 L381.44,465.28 L383.44,465.36 L385.44,465.44 L387.44,465.52 L389.44,465.60 L391.44,465.68 L393.43,465.75 L395.43,465.83 L397.43,465.91 L399.43,465.98 L401.43,466.05 L403.43,466.12 L405.42,466.19 L407.42,466.26 L409.42,466.33 L411.42,466.40 L413.42,466.46 L415.42,466.53 L417.41,466.59 L419.41,466.65 L421.41,466.71 L423.41,466.77 L425.41,466.83 L427.41,466.89 L429.40,466.94 L431.40,467.00 L433.40,467.05 L435.40,467.10" fill="none" stroke="#578dc2" stroke-width="1.25"/>
<line x1="439.1" y1="467.10" x2="453.2" y2="469.20" stroke="#707070" stroke-width="1.1"/>
<text transform="translate(461,473.30) scale(0.86,1)" text-anchor="middle" class="pl">25th</text>
<path d="M54.40,427.00 L56.39,427.57 L58.38,428.14 L60.36,428.71 L62.35,429.27 L64.34,429.83 L66.33,430.38 L68.32,430.93 L70.30,431.48 L72.29,432.02 L74.28,432.56 L76.27,433.10 L78.26,433.63 L80.24,434.15 L82.23,434.68 L84.22,435.20 L86.21,435.72 L88.20,436.23 L90.19,436.74 L92.17,437.24 L94.16,437.75 L96.15,438.24 L98.14,438.74 L100.13,439.23 L102.11,439.72 L104.10,440.21 L106.09,440.69 L108.08,441.17 L110.07,441.64 L112.05,442.11 L114.04,442.58 L116.03,443.05 L118.02,443.51 L120.01,443.97 L121.99,444.43 L123.98,444.88 L125.97,445.33 L127.96,445.78 L129.95,446.22 L131.93,446.66 L133.92,447.09 L135.91,447.52 L137.90,447.94 L139.89,448.36 L141.87,448.77 L143.86,449.18 L145.85,449.58 L147.84,449.97 L149.83,450.36 L151.81,450.74 L153.80,451.11 L155.79,451.47 L157.78,451.83 L159.77,452.17 L161.76,452.51 L163.74,452.84 L165.73,453.16 L167.72,453.47 L169.71,453.78 L171.70,454.07 L173.68,454.35 L175.67,454.62 L177.66,454.88 L179.65,455.13 L181.64,455.36 L183.62,455.59 L185.61,455.80 L187.60,456.00 L189.60,456.59 L191.60,457.15 L193.60,457.67 L195.59,458.17 L197.59,458.64 L199.59,459.08 L201.59,459.49 L203.59,459.88 L205.59,460.25 L207.58,460.60 L209.58,460.93 L211.58,461.24 L213.58,461.54 L215.58,461.82 L217.58,462.09 L219.57,462.35 L221.57,462.59 L223.57,462.83 L225.57,463.07 L227.57,463.29 L229.57,463.52 L231.56,463.73 L233.56,463.95 L235.56,464.15 L237.56,464.35 L239.56,464.55 L241.56,464.75 L243.55,464.93 L245.55,465.12 L247.55,465.30 L249.55,465.47 L251.55,465.64 L253.55,465.81 L255.55,465.97 L257.54,466.13 L259.54,466.29 L261.54,466.44 L263.54,466.59 L265.54,466.73 L267.54,466.88 L269.53,467.01 L271.53,467.15 L273.53,467.28 L275.53,467.41 L277.53,467.53 L279.53,467.66 L281.52,467.77 L283.52,467.89 L285.52,468.00 L287.52,468.11 L289.52,468.22 L291.52,468.33 L293.51,468.43 L295.51,468.53 L297.51,468.63 L299.51,468.72 L301.51,468.82 L303.51,468.91 L305.50,469.00 L307.50,469.08 L309.50,469.17 L311.50,469.25 L313.50,469.33 L315.50,469.41 L317.50,469.48 L319.49,469.56 L321.49,469.63 L323.49,469.70 L325.49,469.77 L327.49,469.84 L329.49,469.91 L331.48,469.98 L333.48,470.04 L335.48,470.10 L337.48,470.17 L339.48,470.23 L341.48,470.29 L343.47,470.34 L345.47,470.40 L347.47,470.46 L349.47,470.51 L351.47,470.57 L353.47,470.62 L355.46,470.67 L357.46,470.73 L359.46,470.78 L361.46,470.83 L363.46,470.88 L365.46,470.93 L367.45,470.97 L369.45,471.02 L371.45,471.07 L373.45,471.12 L375.45,471.16 L377.45,471.21 L379.45,471.25 L381.44,471.30 L383.44,471.34 L385.44,471.38 L387.44,471.43 L389.44,471.47 L391.44,471.52 L393.43,471.56 L395.43,471.60 L397.43,471.64 L399.43,471.69 L401.43,471.73 L403.43,471.77 L405.42,471.82 L407.42,471.86 L409.42,471.90 L411.42,471.95 L413.42,471.99 L415.42,472.04 L417.41,472.08 L419.41,472.12 L421.41,472.17 L423.41,472.22 L425.41,472.26 L427.41,472.31 L429.40,472.35 L431.40,472.40 L433.40,472.45 L435.40,472.50" fill="none" stroke="#578dc2" stroke-width="1.25"/>
<line x1="439.1" y1="472.50" x2="453.2" y2="476.70" stroke="#707070" stroke-width="1.1"/>
<text transform="translate(461,482.00) scale(0.86,1)" text-anchor="middle" class="pl">10th</text>
<path d="M54.40,444.00 L56.39,444.33 L58.38,444.67 L60.36,445.00 L62.35,445.34 L64.34,445.68 L66.33,446.02 L68.32,446.36 L70.30,446.71 L72.29,447.05 L74.28,447.39 L76.27,447.74 L78.26,448.08 L80.24,448.42 L82.23,448.76 L84.22,449.11 L86.21,449.45 L88.20,449.78 L90.19,450.12 L92.17,450.46 L94.16,450.79 L96.15,451.12 L98.14,451.45 L100.13,451.78 L102.11,452.10 L104.10,452.43 L106.09,452.74 L108.08,453.06 L110.07,453.37 L112.05,453.67 L114.04,453.98 L116.03,454.28 L118.02,454.57 L120.01,454.86 L121.99,455.14 L123.98,455.42 L125.97,455.69 L127.96,455.96 L129.95,456.23 L131.93,456.49 L133.92,456.76 L135.91,457.02 L137.90,457.27 L139.89,457.53 L141.87,457.79 L143.86,458.04 L145.85,458.30 L147.84,458.55 L149.83,458.81 L151.81,459.07 L153.80,459.33 L155.79,459.60 L157.78,459.87 L159.77,460.14 L161.76,460.41 L163.74,460.70 L165.73,460.98 L167.72,461.27 L169.71,461.57 L171.70,461.87 L173.68,462.19 L175.67,462.50 L177.66,462.83 L179.65,463.17 L181.64,463.51 L183.62,463.86 L185.61,464.23 L187.60,464.60 L189.60,465.04 L191.60,465.46 L193.60,465.87 L195.59,466.27 L197.59,466.65 L199.59,467.02 L201.59,467.38 L203.59,467.72 L205.59,468.05 L207.58,468.36 L209.58,468.67 L211.58,468.96 L213.58,469.23 L215.58,469.50 L217.58,469.76 L219.57,470.00 L221.57,470.23 L223.57,470.45 L225.57,470.66 L227.57,470.86 L229.57,471.04 L231.56,471.22 L233.56,471.39 L235.56,471.55 L237.56,471.71 L239.56,471.85 L241.56,471.99 L243.55,472.13 L245.55,472.26 L247.55,472.38 L249.55,472.50 L251.55,472.62 L253.55,472.73 L255.55,472.84 L257.54,472.95 L259.54,473.06 L261.54,473.17 L263.54,473.28 L265.54,473.38 L267.54,473.49 L269.53,473.59 L271.53,473.70 L273.53,473.80 L275.53,473.90 L277.53,474.00 L279.53,474.10 L281.52,474.20 L283.52,474.30 L285.52,474.40 L287.52,474.49 L289.52,474.59 L291.52,474.68 L293.51,474.77 L295.51,474.86 L297.51,474.95 L299.51,475.04 L301.51,475.13 L303.51,475.22 L305.50,475.30 L307.50,475.39 L309.50,475.47 L311.50,475.55 L313.50,475.63 L315.50,475.71 L317.50,475.78 L319.49,475.86 L321.49,475.93 L323.49,476.00 L325.49,476.07 L327.49,476.14 L329.49,476.21 L331.48,476.28 L333.48,476.34 L335.48,476.40 L337.48,476.46 L339.48,476.52 L341.48,476.58 L343.47,476.63 L345.47,476.69 L347.47,476.74 L349.47,476.79 L351.47,476.84 L353.47,476.89 L355.46,476.93 L357.46,476.98 L359.46,477.02 L361.46,477.06 L363.46,477.10 L365.46,477.14 L367.45,477.17 L369.45,477.21 L371.45,477.24 L373.45,477.27 L375.45,477.30 L377.45,477.32 L379.45,477.35 L381.44,477.37 L383.44,477.39 L385.44,477.41 L387.44,477.43 L389.44,477.45 L391.44,477.46 L393.43,477.47 L395.43,477.48 L397.43,477.49 L399.43,477.50 L401.43,477.50 L403.43,477.51 L405.42,477.51 L407.42,477.51 L409.42,477.50 L411.42,477.50 L413.42,477.49 L415.42,477.49 L417.41,477.48 L419.41,477.46 L421.41,477.45 L423.41,477.43 L425.41,477.42 L427.41,477.40 L429.40,477.38 L431.40,477.35 L433.40,477.33 L435.40,477.30" fill="none" stroke="#578dc2" stroke-width="1.25"/>
<line x1="439.1" y1="477.30" x2="453.2" y2="484.00" stroke="#707070" stroke-width="1.1"/>
<text transform="translate(461,490.30) scale(0.86,1)" text-anchor="middle" class="pl">3rd</text>
<path d="M54.40,457.00 L56.39,457.16 L58.38,457.32 L60.36,457.48 L62.35,457.64 L64.34,457.81 L66.33,457.98 L68.32,458.15 L70.30,458.32 L72.29,458.49 L74.28,458.67 L76.27,458.85 L78.26,459.03 L80.24,459.21 L82.23,459.39 L84.22,459.57 L86.21,459.76 L88.20,459.95 L90.19,460.14 L92.17,460.33 L94.16,460.52 L96.15,460.71 L98.14,460.90 L100.13,461.10 L102.11,461.29 L104.10,461.49 L106.09,461.69 L108.08,461.89 L110.07,462.09 L112.05,462.29 L114.04,462.49 L116.03,462.69 L118.02,462.89 L120.01,463.10 L121.99,463.30 L123.98,463.51 L125.97,463.71 L127.96,463.92 L129.95,464.12 L131.93,464.33 L133.92,464.54 L135.91,464.75 L137.90,464.95 L139.89,465.16 L141.87,465.37 L143.86,465.58 L145.85,465.79 L147.84,466.01 L149.83,466.22 L151.81,466.43 L153.80,466.65 L155.79,466.86 L157.78,467.08 L159.77,467.29 L161.76,467.51 L163.74,467.73 L165.73,467.95 L167.72,468.16 L169.71,468.38 L171.70,468.60 L173.68,468.83 L175.67,469.05 L177.66,469.27 L179.65,469.50 L181.64,469.72 L183.62,469.95 L185.61,470.17 L187.60,470.40 L189.60,470.89 L191.60,471.34 L193.60,471.77 L195.59,472.17 L197.59,472.55 L199.59,472.91 L201.59,473.24 L203.59,473.55 L205.59,473.84 L207.58,474.11 L209.58,474.37 L211.58,474.61 L213.58,474.83 L215.58,475.04 L217.58,475.24 L219.57,475.43 L221.57,475.61 L223.57,475.78 L225.57,475.95 L227.57,476.10 L229.57,476.26 L231.56,476.40 L233.56,476.54 L235.56,476.68 L237.56,476.81 L239.56,476.94 L241.56,477.06 L243.55,477.19 L245.55,477.30 L247.55,477.42 L249.55,477.53 L251.55,477.64 L253.55,477.75 L255.55,477.85 L257.54,477.96 L259.54,478.06 L261.54,478.16 L263.54,478.26 L265.54,478.36 L267.54,478.46 L269.53,478.56 L271.53,478.66 L273.53,478.75 L275.53,478.85 L277.53,478.94 L279.53,479.03 L281.52,479.12 L283.52,479.21 L285.52,479.30 L287.52,479.39 L289.52,479.48 L291.52,479.56 L293.51,479.65 L295.51,479.73 L297.51,479.81 L299.51,479.89 L301.51,479.97 L303.51,480.04 L305.50,480.12 L307.50,480.19 L309.50,480.27 L311.50,480.34 L313.50,480.41 L315.50,480.48 L317.50,480.54 L319.49,480.61 L321.49,480.67 L323.49,480.73 L325.49,480.79 L327.49,480.85 L329.49,480.91 L331.48,480.96 L333.48,481.02 L335.48,481.07 L337.48,481.12 L339.48,481.17 L341.48,481.21 L343.47,481.26 L345.47,481.30 L347.47,481.34 L349.47,481.38 L351.47,481.42 L353.47,481.45 L355.46,481.48 L357.46,481.51 L359.46,481.54 L361.46,481.57 L363.46,481.59 L365.46,481.61 L367.45,481.63 L369.45,481.65 L371.45,481.67 L373.45,481.68 L375.45,481.69 L377.45,481.69 L379.45,481.70 L381.44,481.70 L383.44,481.70 L385.44,481.70 L387.44,481.69 L389.44,481.69 L391.44,481.68 L393.43,481.66 L395.43,481.65 L397.43,481.63 L399.43,481.61 L401.43,481.58 L403.43,481.55 L405.42,481.52 L407.42,481.49 L409.42,481.46 L411.42,481.42 L413.42,481.37 L415.42,481.33 L417.41,481.28 L419.41,481.23 L421.41,481.17 L423.41,481.12 L425.41,481.06 L427.41,480.99 L429.40,480.92 L431.40,480.85 L433.40,480.78 L435.40,480.70" fill="none" stroke="#578dc2" stroke-width="1.25"/>
<line x1="439.1" y1="480.70" x2="453.2" y2="491.30" stroke="#707070" stroke-width="1.1"/>
<text transform="translate(461,498.00) scale(0.86,1)" text-anchor="middle" class="pl">1st</text>
<text transform="translate(46.6,310.20) scale(0.94,1)" text-anchor="end" class="tk">65</text>
<text transform="translate(46.6,327.07) scale(0.94,1)" text-anchor="end" class="tk">60</text>
<text transform="translate(46.6,343.95) scale(0.94,1)" text-anchor="end" class="tk">55</text>
<text transform="translate(46.6,360.82) scale(0.94,1)" text-anchor="end" class="tk">50</text>
<text transform="translate(46.6,377.70) scale(0.94,1)" text-anchor="end" class="tk">45</text>
<text transform="translate(46.6,394.57) scale(0.94,1)" text-anchor="end" class="tk">40</text>
<text transform="translate(46.6,411.45) scale(0.94,1)" text-anchor="end" class="tk">35</text>
<text transform="translate(46.6,428.32) scale(0.94,1)" text-anchor="end" class="tk">30</text>
<text transform="translate(46.6,445.20) scale(0.94,1)" text-anchor="end" class="tk">25</text>
<text transform="translate(46.6,462.07) scale(0.94,1)" text-anchor="end" class="tk">20</text>
<text transform="translate(46.6,478.95) scale(0.94,1)" text-anchor="end" class="tk">15</text>
<text transform="translate(46.6,495.82) scale(0.94,1)" text-anchor="end" class="tk">10</text>
<text transform="translate(46.6,512.70) scale(0.94,1)" text-anchor="end" class="tk">5</text>
<text transform="translate(54.40,525.90) scale(0.94,1)" text-anchor="middle" class="tk">0</text>
<text transform="translate(71.05,525.90) scale(0.94,1)" text-anchor="middle" class="tk">3</text>
<text transform="translate(87.70,525.90) scale(0.94,1)" text-anchor="middle" class="tk">6</text>
<text transform="translate(104.35,525.90) scale(0.94,1)" text-anchor="middle" class="tk">9</text>
<text transform="translate(121.00,525.90) scale(0.94,1)" text-anchor="middle" class="tk">12</text>
<text transform="translate(137.65,525.90) scale(0.94,1)" text-anchor="middle" class="tk">15</text>
<text transform="translate(154.30,525.90) scale(0.94,1)" text-anchor="middle" class="tk">18</text>
<text transform="translate(170.95,525.90) scale(0.94,1)" text-anchor="middle" class="tk">21</text>
<text transform="translate(187.60,525.90) scale(0.94,1)" text-anchor="middle" class="tk">2</text>
<text transform="translate(205.30,525.90) scale(0.94,1)" text-anchor="middle" class="tk">3</text>
<text transform="translate(223.00,525.90) scale(0.94,1)" text-anchor="middle" class="tk">4</text>
<text transform="translate(240.70,525.90) scale(0.94,1)" text-anchor="middle" class="tk">5</text>
<text transform="translate(258.40,525.90) scale(0.94,1)" text-anchor="middle" class="tk">6</text>
<text transform="translate(276.10,525.90) scale(0.94,1)" text-anchor="middle" class="tk">7</text>
<text transform="translate(293.80,525.90) scale(0.94,1)" text-anchor="middle" class="tk">8</text>
<text transform="translate(311.50,525.90) scale(0.94,1)" text-anchor="middle" class="tk">9</text>
<text transform="translate(329.20,525.90) scale(0.94,1)" text-anchor="middle" class="tk">10</text>
<text transform="translate(346.90,525.90) scale(0.94,1)" text-anchor="middle" class="tk">11</text>
<text transform="translate(364.60,525.90) scale(0.94,1)" text-anchor="middle" class="tk">12</text>
<text transform="translate(382.30,525.90) scale(0.94,1)" text-anchor="middle" class="tk">13</text>
<text transform="translate(400.00,525.90) scale(0.94,1)" text-anchor="middle" class="tk">14</text>
<text transform="translate(417.70,525.90) scale(0.94,1)" text-anchor="middle" class="tk">15</text>
<text transform="translate(435.40,525.90) scale(0.94,1)" text-anchor="middle" class="tk">16</text>
<text x="91.1" y="545.30" class="ti">Age (months)</text>
<text x="286.1" y="545.30" class="ti">Age (years)</text>
<text transform="translate(20.25,408.80) rotate(-90)" text-anchor="middle" class="ti" style="font-size:10.15px">Respiratory rate (breaths/minute)</text>
<text x="2.8" y="314.60" class="lt">B</text>
</svg>
</body></html>
